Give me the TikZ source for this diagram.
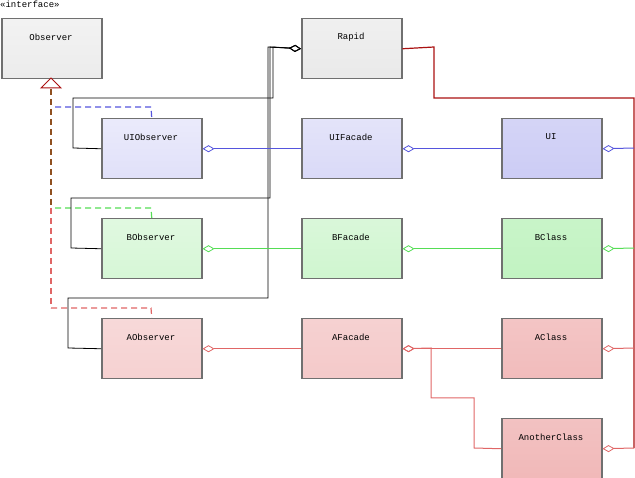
\documentclass[tikz,border=0pt]{standalone}
\usepackage{fontspec}
\setmainfont{Liberation Mono}
\usetikzlibrary{arrows.meta}
\definecolor{bdr}{HTML}{707070}
\definecolor{cb}{HTML}{5555DD}
\definecolor{cg}{HTML}{55DD55}
\definecolor{cr}{HTML}{E06666}
\definecolor{dr}{HTML}{AA1111}
\definecolor{br}{HTML}{905020}
\begin{document}
\begin{tikzpicture}[x=1pt,y=-1pt,
 cls/.style={draw=bdr,line width=1.5pt,minimum width=100pt,minimum height=60pt,inner sep=0,anchor=north west},
 lbl/.style={font=\fontsize{9}{10}\selectfont,anchor=center},
 agg/.style={-{Diamond[open,length=12pt,width=7pt,line width=0.8pt]}},
 dsh/.style={dashed,dash pattern=on 6pt off 4pt,line width=1.2pt}]
\useasboundingbox (0,0) rectangle (635,478);
\def\umlbox#1#2#3#4#5#6{\node[cls,top color=#5,bottom color=#6] (#1) at (#2,#3) {};
 \node[lbl] (#1t) at (#2+50,#3+19) {#4};}
\umlbox{obs}{1}{18}{Observer}{white!90!gray}{white!85!gray}
\umlbox{rap}{301}{18}{Rapid}{white!88!gray}{white!83!gray}
\umlbox{uio}{101}{118}{UIObserver}{cb!12}{cb!18}
\umlbox{uif}{301}{118}{UIFacade}{cb!16}{cb!22}
\umlbox{ui}{501}{118}{UI}{cb!25}{cb!30}
\umlbox{bo}{101}{218}{BObserver}{cg!18}{cg!24}
\umlbox{bf}{301}{218}{BFacade}{cg!22}{cg!28}
\umlbox{bc}{501}{218}{BClass}{cg!32}{cg!36}
\umlbox{ao}{101}{318}{AObserver}{cr!25}{cr!30}
\umlbox{af}{301}{318}{AFacade}{cr!30}{cr!35}
\umlbox{ac}{501}{318}{AClass}{cr!38}{cr!44}
\umlbox{an}{501}{418}{AnotherClass}{cr!40}{cr!46}
\node[font=\fontsize{9}{10}\selectfont,anchor=north west,inner sep=0] (it) at (0,1) {<<interface>>};
% inheritance
\coordinate (tri) at (51,78);
\draw[dr,line width=1pt,fill=white] (tri) -- (41,88) -- (61,88) -- cycle;
\draw[dsh,br] (51,89) -- (51,208);
\draw[dsh,cr] (51,208) -- (51,308);
\draw[dsh,cb] (55,107) -- (151,107) -- (uio.north);
\draw[dsh,cg] (55,208) -- (151,208) -- (bo.north);
\draw[dsh,cr] (51,308) -- (151,308) -- (ao.north);
% Rapid aggregation
\coordinate (r0) at (rap.west);
\draw[agg,line width=0.8pt] (uio.west) -- (73,148) -- (73,98) -- (273,98) -- (273,47) -- (r0);
\draw[agg,line width=0.8pt] (bo.west) -- (71,248) -- (71,198) -- (270,198) -- (270,47) -- (r0);
\draw[agg,line width=0.8pt] (ao.west) -- (68,348) -- (68,298) -- (268,298) -- (268,47) -- (r0);
% red bus from Rapid
\draw[dr,line width=1.2pt] (rap.east) -- (434,47) -- (434,98) -- (634,98) -- (634,448);
\draw[agg,cb,line width=1pt] (634,148) -- (ui.east);
\draw[agg,cg,line width=1pt] (634,248) -- (bc.east);
\draw[agg,cr,line width=1pt] (634,348) -- (ac.east);
\draw[agg,cr,line width=1pt] (634,448) -- (an.east);
% rows
\draw[agg,cb,line width=1pt] (uif.west) -- (uio.east);
\draw[agg,cb,line width=1pt] (ui.west) -- (uif.east);
\draw[agg,cg,line width=1pt] (bf.west) -- (bo.east);
\draw[agg,cg,line width=1pt] (bc.west) -- (bf.east);
\draw[agg,cr,line width=1pt] (af.west) -- (ao.east);
\draw[agg,cr,line width=1pt] (ac.west) -- (af.east);
\draw[agg,cr,line width=1pt] (an.west) -- (474,448) -- (474,398) -- (431,398) -- (431,348) -- (af.east);
\end{tikzpicture}
\end{document}
